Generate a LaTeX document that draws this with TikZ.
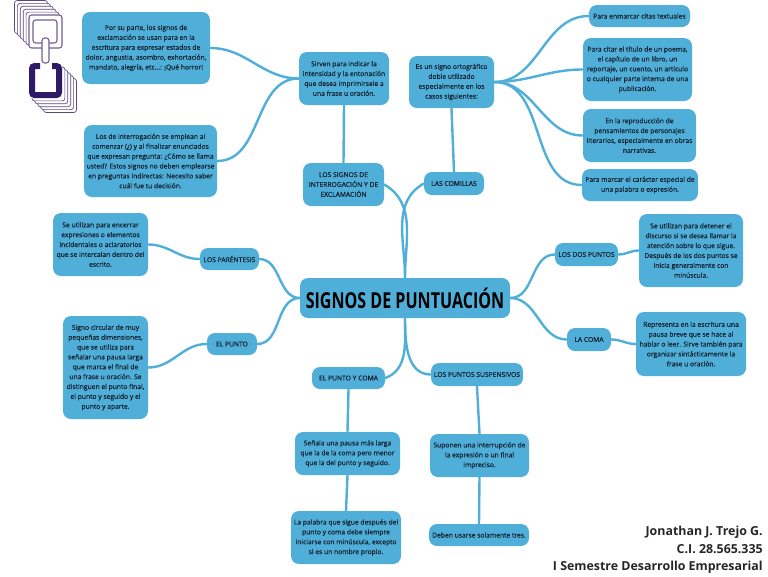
\documentclass[tikz,border=0pt]{standalone}
\usepackage{fontspec}
\setmainfont{Open Sans}
\newfontfamily\titulofont[FakeStretch=0.73]{Open Sans}
\newfontfamily\textofont[FakeBold=0.25]{Open Sans}
\usetikzlibrary{positioning}
\definecolor{celeste}{HTML}{50AFD8}
\definecolor{tinta}{HTML}{12202E}
\definecolor{morado}{HTML}{2E1A66}
\tikzstyle{bloque}=[fill=celeste, rounded corners=6pt, text=tinta, align=center, inner sep=0pt,
  font=\textofont\fontsize{5.05}{7.4}\selectfont]
\tikzstyle{enlace}=[draw=celeste, line width=1.8pt, line cap=round]
\tikzset{caja/.style 2 args={bloque, minimum width=#1*.75pt, minimum height=#2*.75pt}}
\begin{document}
\begin{tikzpicture}[x=.75pt, y=-.75pt]
  \useasboundingbox (0,0) rectangle (768,576);
  % logo
  \foreach \d in {5,4,3,2,1}{
    \draw[morado!80, fill=white, line width=.5pt, rounded corners=2pt] (29-2.9*\d,15-2.9*\d) rectangle (62-2.9*\d,48-2.9*\d);
    \draw[morado!80, fill=white, line width=.5pt, rounded corners=2pt] (29+2.9*\d,64+2.9*\d) rectangle (62+2.9*\d,98+2.9*\d);
  }
  \draw[morado!70, fill=white, line width=.8pt, rounded corners=2pt] (29,15) rectangle (62,48);
  \draw[morado!70, fill=white, line width=.8pt, rounded corners=2pt] (33,20) rectangle (57,43);
  \fill[white] (29,63) rectangle (62,98);
  \draw[morado, line width=4.5pt, rounded corners=2pt] (40,66) -- (32,66) -- (32,95) -- (59,95) -- (59,66) -- (52,66);
  \draw[morado!70, fill=white, line width=.8pt, rounded corners=2pt] (42,38) rectangle (49,63);
  % nodos
  \node[caja={210}{40}, font=\titulofont\bfseries\fontsize{16.5}{18}\selectfont, text=black] (signos) at (405,298){SIGNOS DE PUNTUACIÓN};
  \node[caja={128}{72}] (exclama) at (146,48){Por su parte, los signos de\\exclamación se usan para en la\\escritura para expresar estados de\\dolor, angustia, asombro, exhortación,\\mandato, alegría, etc...: ¡Qué horror!};
  \node[caja={133}{72}] (interroga) at (150.5,161){Los de interrogación se emplean al\\comenzar (¿) y al finalizar enunciados\\que expresan pregunta: ¿Cómo se llama\\usted? Estos signos no deben emplearse\\en preguntas indirectas: Necesito saber\\cuál fue tu decisión.};
  \node[caja={90}{53}] (sirven) at (344,78.5){Sirven para indicar la\\intensidad y la entonación\\que desea imprimirsele a\\una frase u oración.};
  \node[caja={81}{43}] (lossignos) at (343.5,184.5){LOS SIGNOS DE\\INTERROGACIÓN Y DE\\EXCLAMACIÓN};
  \node[caja={85}{52}] (comillasdef) at (451.5,82){Es un signo ortográfico\\doble utilizado\\especialmente en los\\casos siguientes:};
  \node[caja={60}{23}] (comillas) at (454,183.5){LAS COMILLAS};
  \node[caja={101}{22}] (citas) at (639.5,16){Para enmarcar citas textuales};
  \node[caja={109}{63}] (poema) at (637.5,69.5){Para citar el título de un poema,\\el capítulo de un libro, un\\reportaje, un cuento, un artículo\\o cualquier parte interna de una\\publicación.};
  \node[caja={113}{53}] (repro) at (639.5,135.5){En la reproducción de\\pensamientos de personajes\\literarios, especialmente en obras\\narrativas.};
  \node[caja={116}{32}] (caracter) at (640,185){Para marcar el carácter especial de\\una palabra o expresión.};
  \node[caja={59}{22}] (parentesis) at (229.5,259){LOS PARÉNTESIS};
  \node[caja={95}{63}] (encerrar) at (100.5,244.5){Se utilizan para encerrar\\expresiones o elementos\\incidentales o aclaratorios\\que se intercalan dentro del\\escrito.};
  \node[caja={50}{22}] (punto) at (232,344){EL PUNTO};
  \node[caja={85}{103}] (circular) at (105.5,367.5){Signo circular de muy\\pequeñas dimensiones,\\que se utiliza para\\señalar una pausa larga\\que marca el final de\\una frase u oración. Se\\distinguen el punto final,\\el punto y seguido y el\\punto y aparte.};
  \node[caja={73}{22}] (puntocoma) at (348.5,378){EL PUNTO Y COMA};
  \node[caja={92}{23}] (suspensivos) at (477,374.5){LOS PUNTOS SUSPENSIVOS};
  \node[caja={105}{43}] (senala) at (347.5,453.5){Señala una pausa más larga\\que la de la coma pero menor\\que la del punto y seguido.};
  \node[caja={99}{43}] (suponen) at (479.5,455.5){Suponen una interrupción de\\la expresión o un final\\impreciso.};
  \node[caja={110}{53}] (palabra) at (346,537.5){La palabra que sigue después del\\punto y coma debe siempre\\iniciarse con minúscula, excepto\\si es un nombre propio.};
  \node[caja={100}{22}] (deben) at (479,535){Deben usarse solamente tres.};
  \node[caja={63}{23}] (dospuntos) at (586.5,254.5){LOS DOS PUNTOS};
  \node[caja={104}{73}] (detener) at (691,250.5){Se utilizan para detener el\\discurso si se desea llamar la\\atención sobre lo que sigue.\\Después de los dos puntos se\\inicia generalmente con\\minúscula.};
  \node[caja={44}{23}] (coma) at (589,339.5){LA COMA};
  \node[caja={110}{64}] (representa) at (691,344){Representa en la escritura una\\pausa breve que se hace al\\hablar o leer. Sirve también para\\organizar sintácticamente la\\frase u oración.};
  \node[anchor=east, align=right, inner sep=0pt, text=black!85, font=\bfseries\fontsize{9.3}{13}\selectfont] (autor) at (763,550){Jonathan J. Trejo G.\\C.I. 28.565.335\\I Semestre Desarrollo Empresarial};
  % enlaces
  \draw[enlace] (exclama.east) to[out=0,in=180] (sirven.west);
  \draw[enlace] (interroga.east) to[out=0,in=180] (sirven.west);
  \draw[enlace] (sirven.south) -- (lossignos.north);
  \draw[enlace] (comillasdef.south) -- (comillas.north);
  \draw[enlace] (comillasdef.east) to[out=0,in=180] (citas.west);
  \draw[enlace] (comillasdef.east) to[out=0,in=180] (poema.west);
  \draw[enlace] (comillasdef.east) to[out=0,in=180] (repro.west);
  \draw[enlace] (comillasdef.east) to[out=0,in=180] (caracter.west);
  \draw[enlace] (lossignos.east) to[out=-30,in=90] (signos.north);
  \draw[enlace] (comillas.west) to[out=210,in=90] (signos.north);
  \draw[enlace] (parentesis.east) to[out=0,in=180] (signos.west);
  \draw[enlace] (punto.east) to[out=0,in=180] (signos.west);
  \draw[enlace] (encerrar.east) to[out=0,in=180] (parentesis.west);
  \draw[enlace] (circular.east) to[out=0,in=180] (punto.west);
  \draw[enlace] (puntocoma.east) to[out=20,in=-90] (signos.south);
  \draw[enlace] (suspensivos.west) to[out=180,in=-90] (signos.south);
  \draw[enlace] (puntocoma.south) -- (senala.north);
  \draw[enlace] (senala.south) -- (palabra.north);
  \draw[enlace] (suspensivos.south) -- (suponen.north);
  \draw[enlace] (suponen.south) -- (deben.north);
  \draw[enlace] (signos.east) to[out=0,in=180] (dospuntos.west);
  \draw[enlace] (signos.east) to[out=0,in=180] (coma.west);
  \draw[enlace] (dospuntos.east) to[out=0,in=180] (detener.west);
  \draw[enlace] (coma.east) to[out=0,in=180] (representa.west);
\end{tikzpicture}
\end{document}
